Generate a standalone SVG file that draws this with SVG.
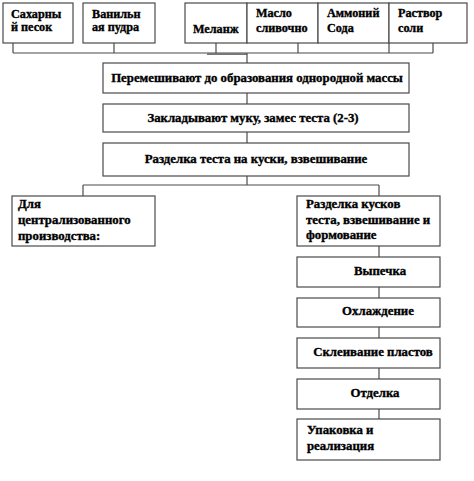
<svg xmlns="http://www.w3.org/2000/svg" width="474" height="481" viewBox="0 0 474 481" font-family="'Liberation Serif', 'Times New Roman', serif">
<style>
.b{fill:#fff;stroke:#4a4a4a;stroke-width:1.2}
.c line{stroke:#4a4a4a;stroke-width:1.2}
text{font-family:'Liberation Serif','Times New Roman',serif;font-weight:bold;font-size:12.8px;fill:#000;stroke:#000;stroke-width:0.35}
.m{text-anchor:middle}
.s{font-size:12.2px}
</style>
<rect width="474" height="481" fill="#fff"/>
<g class="c" id="connectors">
<line x1="13" y1="43" x2="13" y2="53"/>
<line x1="114" y1="43" x2="114" y2="53"/>
<line x1="216" y1="43" x2="216" y2="53"/>
<line x1="298" y1="43" x2="298" y2="53"/>
<line x1="389" y1="43" x2="389" y2="53"/>
<line x1="433" y1="43" x2="433" y2="53"/>
<line x1="13" y1="53" x2="433" y2="53"/>
<line x1="207" y1="54.2" x2="247" y2="54.2"/>
<line x1="247" y1="53" x2="247" y2="63"/>
<line x1="247" y1="93" x2="247" y2="104"/>
<line x1="247" y1="132" x2="247" y2="143"/>
<line x1="247" y1="176" x2="247" y2="185"/>
<line x1="83" y1="185" x2="379" y2="185"/>
<line x1="83" y1="185" x2="83" y2="196"/>
<line x1="379" y1="185" x2="379" y2="196"/>
<line x1="379" y1="246" x2="379" y2="257"/>
<line x1="379" y1="287" x2="379" y2="298"/>
<line x1="379" y1="327" x2="379" y2="338"/>
<line x1="379" y1="368" x2="379" y2="379"/>
<line x1="379" y1="409" x2="379" y2="419"/>
</g>
<g id="n1"><rect class="b" x="3" y="3" width="70" height="40"/><text class="s" x="11" y="18">Сахарны</text><text class="s" x="11" y="31">й песок</text></g>
<g id="n2"><rect class="b" x="83" y="3" width="72" height="40"/><text class="s" x="92" y="18">Ванильн</text><text class="s" x="92" y="31">ая пудра</text></g>
<g id="n3"><rect class="b" x="185" y="3" width="62" height="40"/><text class="s" x="193" y="33">Меланж</text></g>
<g id="n4"><rect class="b" x="247" y="3" width="71" height="40"/><text class="s" x="256" y="17">Масло</text><text class="s" x="256" y="32">сливочно</text></g>
<g id="n5"><rect class="b" x="318" y="3" width="71" height="40"/><text class="s" x="327" y="17">Аммоний</text><text class="s" x="327" y="32">Сода</text></g>
<g id="n6"><rect class="b" x="389" y="3" width="78" height="40"/><text class="s" x="398" y="17">Раствор</text><text class="s" x="398" y="32">соли</text></g>
<g id="p1"><rect class="b" x="103" y="63" width="306" height="30"/><text class="m" x="257" y="82">Перемешивают до образования однородной массы</text></g>
<g id="p2"><rect class="b" x="103" y="104" width="306" height="28"/><text class="m" x="253" y="122">Закладывают муку, замес теста (2-3)</text></g>
<g id="p3"><rect class="b" x="103" y="143" width="306" height="33"/><text class="m" x="256" y="163">Разделка теста на куски, взвешивание</text></g>
<g id="l1"><rect class="b" x="12" y="196" width="143" height="50"/><text x="18" y="208">Для</text><text x="18" y="224">централизованного</text><text x="18" y="240">производства:</text></g>
<g id="r1"><rect class="b" x="297" y="196" width="143" height="50"/><text x="306" y="208">Разделка кусков</text><text x="306" y="224">теста, взвешивание и</text><text x="306" y="239">формование</text></g>
<g id="r2"><rect class="b" x="297" y="257" width="143" height="30"/><text class="m" x="380" y="275">Выпечка</text></g>
<g id="r3"><rect class="b" x="297" y="298" width="143" height="29"/><text class="m" x="378" y="315">Охлаждение</text></g>
<g id="r4"><rect class="b" x="297" y="338" width="143" height="30"/><text class="m" x="373" y="356">Склеивание пластов</text></g>
<g id="r5"><rect class="b" x="297" y="379" width="143" height="30"/><text class="m" x="375" y="397">Отделка</text></g>
<g id="r6"><rect class="b" x="297" y="419" width="143" height="41"/><text x="307" y="434">Упаковка и</text><text x="307" y="450">реализация</text></g>
</svg>
